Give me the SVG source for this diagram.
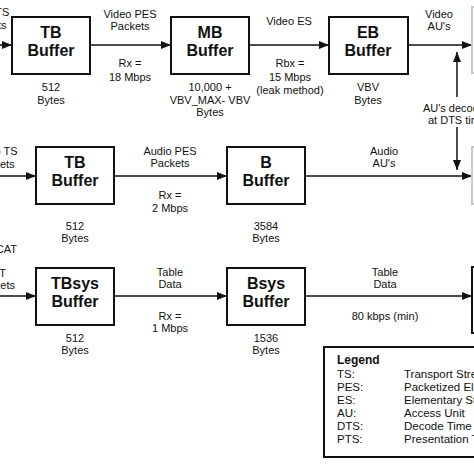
<svg xmlns="http://www.w3.org/2000/svg" width="474" height="474" viewBox="0 0 474 474">
<defs>
<marker id="ah" markerUnits="userSpaceOnUse" markerWidth="10" markerHeight="8" refX="10" refY="4" orient="auto">
<path d="M0,0 L10,4 L0,8 z" fill="#111"/>
</marker>
<style>
.box{fill:#fff;stroke:#111;stroke-width:2}
.gbox{fill:#fff;stroke:#c8c8c8;stroke-width:2}
.t{font-family:"Liberation Sans",Arial,sans-serif;font-size:16px;font-weight:bold;fill:#111;text-anchor:middle}
.l{font-family:"Liberation Sans",Arial,sans-serif;font-size:11px;fill:#111;text-anchor:middle}
.le{font-family:"Liberation Sans",Arial,sans-serif;font-size:11px;fill:#111;text-anchor:end}
.g{font-family:"Liberation Sans",Arial,sans-serif;font-size:11.5px;fill:#111}
.gb{font-family:"Liberation Sans",Arial,sans-serif;font-size:12px;font-weight:bold;fill:#111}
.c{stroke:#111;stroke-width:1.5;fill:none;marker-end:url(#ah)}
</style>
</defs>
<rect width="474" height="474" fill="#fff"/>

<g id="connectors">
<line class="c" x1="0" y1="45" x2="12" y2="45"/>
<line class="c" x1="90" y1="45" x2="171" y2="45"/>
<line class="c" x1="249" y1="45" x2="329" y2="45"/>
<line class="c" x1="408" y1="45" x2="472" y2="45"/>
<line class="c" x1="457" y1="97" x2="457" y2="52"/>
<line class="c" x1="457" y1="127" x2="457" y2="170"/>
<line class="c" x1="0" y1="176" x2="36" y2="176"/>
<line class="c" x1="114" y1="176" x2="227" y2="176"/>
<line class="c" x1="305" y1="176" x2="472" y2="176"/>
<line class="c" x1="0" y1="296" x2="36" y2="296"/>
<line class="c" x1="114" y1="296" x2="227" y2="296"/>
<line class="c" x1="305" y1="296" x2="472" y2="296"/>
</g>

<g id="connector-labels">
<text class="l" x="-13" y="16">Video TS</text>
<text class="l" x="-13" y="29">Packets</text>
<text class="l" x="130" y="18">Video PES</text>
<text class="l" x="130" y="30">Packets</text>
<text class="l" x="130" y="67">Rx =</text>
<text class="l" x="130" y="81">18 Mbps</text>
<text class="l" x="289" y="25">Video ES</text>
<text class="l" x="290" y="67">Rbx =</text>
<text class="l" x="290" y="81">15 Mbps</text>
<text class="l" x="290" y="94">(leak method)</text>
<text class="l" x="439" y="18">Video</text>
<text class="l" x="439" y="30">AU's</text>
<text class="l" x="457" y="112">AU's decoded</text>
<text class="l" x="457" y="124">at DTS time</text>

<text class="l" x="-5" y="155">Audio TS</text>
<text class="l" x="-5" y="168">Packets</text>
<text class="l" x="170" y="155">Audio PES</text>
<text class="l" x="170" y="167">Packets</text>
<text class="l" x="170" y="199">Rx =</text>
<text class="l" x="170" y="212">2 Mbps</text>
<text class="l" x="384" y="155">Audio</text>
<text class="l" x="384" y="167">AU's</text>

<text class="le" x="17" y="253">PAT, PMT, CAT</text>
<text class="le" x="6" y="277">PAT, PMT</text>
<text class="le" x="15" y="289">Packets</text>
<text class="l" x="170" y="276">Table</text>
<text class="l" x="170" y="288">Data</text>
<text class="l" x="170" y="320">Rx =</text>
<text class="l" x="170" y="332">1 Mbps</text>
<text class="l" x="385" y="276">Table</text>
<text class="l" x="385" y="288">Data</text>
<text class="l" x="385" y="320">80 kbps (min)</text>
</g>

<g id="tb-video">
<rect class="box" x="12" y="17" width="78" height="57"/>
<text class="t" x="51" y="38">TB</text>
<text class="t" x="51" y="56">Buffer</text>
<text class="l" x="51" y="91">512</text>
<text class="l" x="51" y="104">Bytes</text>
</g>
<g id="mb-buffer">
<rect class="box" x="171" y="17" width="78" height="57"/>
<text class="t" x="210" y="38">MB</text>
<text class="t" x="210" y="56">Buffer</text>
<text class="l" x="210" y="91">10,000 +</text>
<text class="l" x="210" y="104">VBV_MAX- VBV</text>
<text class="l" x="210" y="116">Bytes</text>
</g>
<g id="eb-buffer">
<rect class="box" x="329" y="17" width="79" height="57"/>
<text class="t" x="368" y="38">EB</text>
<text class="t" x="368" y="56">Buffer</text>
<text class="l" x="368" y="91">VBV</text>
<text class="l" x="368" y="104">Bytes</text>
</g>
<g id="video-decoder">
<rect class="gbox" x="472" y="7" width="20" height="66"/>
</g>

<g id="tb-audio">
<rect class="box" x="36" y="147" width="78" height="57"/>
<text class="t" x="75" y="168">TB</text>
<text class="t" x="75" y="186">Buffer</text>
<text class="l" x="75" y="230">512</text>
<text class="l" x="75" y="242">Bytes</text>
</g>
<g id="b-buffer">
<rect class="box" x="227" y="147" width="78" height="57"/>
<text class="t" x="266" y="168">B</text>
<text class="t" x="266" y="186">Buffer</text>
<text class="l" x="266" y="230">3584</text>
<text class="l" x="266" y="242">Bytes</text>
</g>
<g id="audio-decoder">
<rect class="gbox" x="472" y="147" width="20" height="57"/>
</g>

<g id="tbsys-buffer">
<rect class="box" x="36" y="268" width="78" height="57"/>
<text class="t" x="75" y="289">TBsys</text>
<text class="t" x="75" y="307">Buffer</text>
<text class="l" x="75" y="342">512</text>
<text class="l" x="75" y="354">Bytes</text>
</g>
<g id="bsys-buffer">
<rect class="box" x="227" y="268" width="78" height="57"/>
<text class="t" x="266" y="289">Bsys</text>
<text class="t" x="266" y="307">Buffer</text>
<text class="l" x="266" y="342">1536</text>
<text class="l" x="266" y="354">Bytes</text>
</g>
<g id="system-decoder">
<rect class="box" x="472" y="267" width="20" height="66"/>
</g>

<g id="legend">
<rect class="box" x="324" y="347" width="170" height="110"/>
<text class="gb" x="337" y="364">Legend</text>
<text class="g" x="337" y="378">TS:</text>
<text class="g" x="337" y="391">PES:</text>
<text class="g" x="337" y="404">ES:</text>
<text class="g" x="337" y="417">AU:</text>
<text class="g" x="337" y="430">DTS:</text>
<text class="g" x="337" y="443">PTS:</text>
<text class="g" x="404" y="378">Transport Stream</text>
<text class="g" x="404" y="391">Packetized Elementary Stream</text>
<text class="g" x="404" y="404">Elementary Stream</text>
<text class="g" x="404" y="417">Access Unit</text>
<text class="g" x="404" y="430">Decode Time Stamp</text>
<text class="g" x="404" y="443">Presentation Time Stamp</text>
</g>
</svg>
